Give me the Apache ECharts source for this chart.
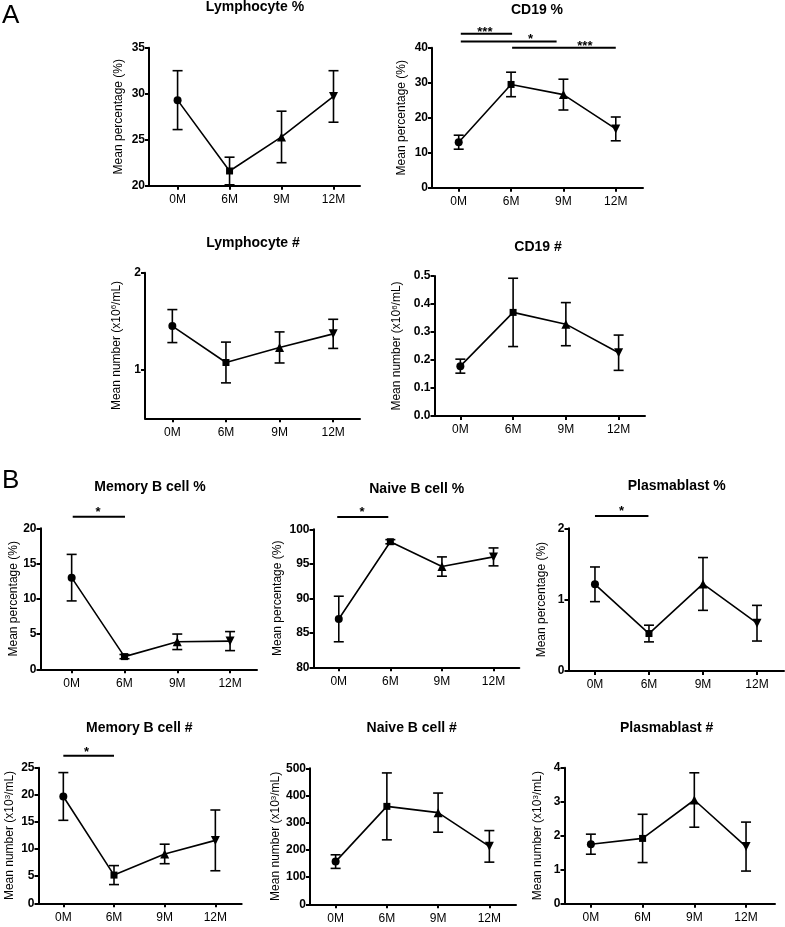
<!DOCTYPE html>
<html>
<head>
<meta charset="utf-8">
<script src="https://cdn.jsdelivr.net/npm/echarts@6/dist/echarts.min.js"></script>
<style>
html,body{margin:0;padding:0;background:#fff;}
#chart{width:785px;height:927px;}
</style>
</head>
<body>
<div id="chart"></div>
<script>
// ---------- data ----------
const categories = ['0M', '6M', '9M', '12M'];

const lymphPctMean = [29.3, 21.6, 25.3, 29.7];
const lymphPctSem  = [3.2, 1.5, 2.8, 2.8];
const cd19PctMean  = [13.0, 29.5, 26.6, 16.8];
const cd19PctSem   = [2.0, 3.5, 4.4, 3.4];
const lymphNumMean = [1.45, 1.075, 1.23, 1.37];
const lymphNumSem  = [0.17, 0.21, 0.16, 0.15];
const cd19NumMean  = [0.178, 0.37, 0.328, 0.226];
const cd19NumSem   = [0.025, 0.122, 0.077, 0.063];
const memPctMean   = [13.0, 1.8, 3.9, 4.0];
const memPctSem    = [3.3, 0.3, 1.1, 1.35];
const naivePctMean = [87.0, 98.2, 94.6, 96.0];
const naivePctSem  = [3.3, 0.3, 1.4, 1.3];
const plasmaPctMean = [1.215, 0.525, 1.22, 0.67];
const plasmaPctSem  = [0.243, 0.117, 0.37, 0.25];
const memNumMean   = [19.7, 5.2, 9.1, 11.6];
const memNumSem    = [4.4, 1.75, 1.8, 5.6];
const naiveNumMean = [157, 360, 337, 213];
const naiveNumSem  = [25, 123, 72, 58];
const plasmaNumMean = [1.75, 1.92, 3.05, 1.68];
const plasmaNumSem  = [0.295, 0.71, 0.8, 0.72];

// significance bars: [xStart, xEnd, yLevel, labelX]
const cd19PctSig = [[0.04, 1.02, 44.0, 0.5], [0.04, 1.87, 41.8, 1.37], [1.02, 3.0, 40.0, 2.41]];
const cd19PctSigLabels = ['***', '*', '***'];
const memPctSig = [[0.02, 1.01, 21.65, 0.5]];
const memPctSigLabels = ['*'];
const naivePctSig = [[-0.03, 0.96, 101.78, 0.45]];
const naivePctSigLabels = ['*'];
const plasmaPctSig = [[0.0, 0.99, 2.174, 0.49]];
const plasmaPctSigLabels = ['*'];
const memNumSig = [[0.0, 1.0, 27.2, 0.46]];
const memNumSigLabels = ['*'];

const lymphNumTicks = [1, 2];

const titles = ['Lymphocyte %', 'CD19 %', 'Lymphocyte #', 'CD19 #',
  'Memory B cell %', 'Naive B cell %', 'Plasmablast %',
  'Memory B cell #', 'Naive B cell #', 'Plasmablast #'];

// ---------- styling / layout ----------
const FONT = 'Liberation Sans, Arial, Helvetica, sans-serif';
const pctName = 'Mean percentage (%)';
const num6Name = '{a|Mean number (x10}{s|6}{a|/mL)}';
const num3Name = '{a|Mean number (x10}{s|3}{a|/mL)}';
const symbols = ['circle', 'rect', 'triangle', 'triangle'];
const symbolRot = [0, 0, 0, 180];
const symbolSizes = [8, 7, 9, 9];

const panels = [
  {mean: lymphPctMean, sem: lymphPctSem, tx: 255, ty: 7.5, L: 149, R: 360, T: 47.7, B: 185.7, xmin: -0.55, xmax: 3.51, ymin: 20, ymax: 35, interval: 5, name: pctName, gap: 24},
  {mean: cd19PctMean, sem: cd19PctSem, tx: 537, ty: 10, L: 432, R: 643, T: 47.7, B: 187.7, xmin: -0.51, xmax: 3.52, ymin: 0, ymax: 40, interval: 10, name: pctName, gap: 24, sig: cd19PctSig, sigLabels: cd19PctSigLabels, sigOff: 5},
  {mean: lymphNumMean, sem: lymphNumSem, tx: 253, ty: 243.3, L: 145, R: 360, T: 272.7, B: 418.3, xmin: -0.51, xmax: 3.5, ymin: 0.5, ymax: 2, custom: lymphNumTicks, name: num6Name, gap: 22},
  {mean: cd19NumMean, sem: cd19NumSem, tx: 538, ty: 247.3, L: 434.5, R: 645, T: 276, B: 416, xmin: -0.49, xmax: 3.5, ymin: 0, ymax: 0.5, interval: 0.1, fixed: 1, name: num6Name, gap: 31},
  {mean: memPctMean, sem: memPctSem, tx: 150, ty: 486.7, L: 40.5, R: 257, T: 528.3, B: 669.3, xmin: -0.59, xmax: 3.51, ymin: 0, ymax: 20, interval: 5, name: pctName, gap: 14, sig: memPctSig, sigLabels: memPctSigLabels, sigOff: 8},
  {mean: naivePctMean, sem: naivePctSem, tx: 416.7, ty: 489.3, L: 313.5, R: 519.3, T: 529.3, B: 667.3, xmin: -0.49, xmax: 3.5, ymin: 80, ymax: 100, interval: 5, name: pctName, gap: 30, sig: naivePctSig, sigLabels: naivePctSigLabels, sigOff: 8},
  {mean: plasmaPctMean, sem: plasmaPctSem, tx: 676.7, ty: 486, L: 568.5, R: 784, T: 528.3, B: 671, xmin: -0.49, xmax: 3.5, ymin: 0, ymax: 2, interval: 1, name: pctName, gap: 20.5, sig: plasmaPctSig, sigLabels: plasmaPctSigLabels, sigOff: 8},
  {mean: memNumMean, sem: memNumSem, tx: 139.3, ty: 728.3, L: 38.5, R: 241.7, T: 767.7, B: 903.3, xmin: -0.49, xmax: 3.52, ymin: 0, ymax: 25, interval: 5, name: num3Name, gap: 22, sig: memNumSig, sigLabels: memNumSigLabels, sigOff: 7},
  {mean: naiveNumMean, sem: naiveNumSem, tx: 411.7, ty: 728.3, L: 310, R: 516, T: 768.3, B: 904.3, xmin: -0.5, xmax: 3.52, ymin: 0, ymax: 500, interval: 100, name: num3Name, gap: 27},
  {mean: plasmaNumMean, sem: plasmaNumSem, tx: 666.7, ty: 728.3, L: 564.5, R: 775, T: 767.7, B: 903.7, xmin: -0.51, xmax: 3.56, ymin: 0, ymax: 4, interval: 1, name: num3Name, gap: 20}
];

function renderErr(params, api) {
  const x = api.value(0), lo = api.value(1), hi = api.value(2);
  const pt = api.coord([x, hi]), pb = api.coord([x, lo]);
  const h = 5, st = {stroke: '#000', lineWidth: 1.6};
  return {type: 'group', children: [
    {type: 'line', shape: {x1: pt[0], y1: pt[1], x2: pb[0], y2: pb[1]}, style: st},
    {type: 'line', shape: {x1: pt[0] - h, y1: pt[1], x2: pt[0] + h, y2: pt[1]}, style: st},
    {type: 'line', shape: {x1: pb[0] - h, y1: pb[1], x2: pb[0] + h, y2: pb[1]}, style: st}
  ]};
}

function makeSigRenderer(labels, off) {
  return function (params, api) {
    const x1 = api.value(0), x2 = api.value(1), y = api.value(2), lx = api.value(3);
    const a = api.coord([x1, y]), b = api.coord([x2, y]), c = api.coord([lx, y]);
    return {type: 'group', children: [
      {type: 'line', shape: {x1: a[0], y1: a[1], x2: b[0], y2: b[1]}, style: {stroke: '#000', lineWidth: 2}},
      {type: 'text', style: {text: labels[params.dataIndex], x: c[0], y: c[1] - off + 3.5,
        align: 'center', verticalAlign: 'middle', textAlign: 'center', textVerticalAlign: 'middle',
        font: 'bold 13px ' + FONT, fill: '#000'}}
    ]};
  };
}

const grid = [], xAxis = [], yAxis = [], series = [], title = [];

title.push({text: 'A', left: 2, top: 3, padding: 0, textStyle: {fontSize: 26, fontWeight: 'normal', color: '#000', fontFamily: FONT}});
title.push({text: 'B', left: 2, top: 468, padding: 0, textStyle: {fontSize: 26, fontWeight: 'normal', color: '#000', fontFamily: FONT}});

panels.forEach((p, i) => {
  grid.push({left: p.L, top: p.T, width: p.R - p.L, height: p.B - p.T, containLabel: false});
  title.push({text: titles[i], left: p.tx, top: p.ty - 7, padding: 0, textAlign: 'center',
    textStyle: {fontSize: 14, fontWeight: 'bold', color: '#000', fontFamily: FONT}});
  xAxis.push({
    type: 'value', gridIndex: i, min: p.xmin, max: p.xmax,
    axisLine: {show: true, onZero: false, lineStyle: {color: '#000', width: 2}},
    axisTick: {show: true, length: 4, customValues: [0, 1, 2, 3], lineStyle: {color: '#000', width: 2}},
    axisLabel: {show: true, customValues: [0, 1, 2, 3], margin: 8, color: '#000', fontSize: 12, fontFamily: FONT,
      formatter: v => categories[Math.round(v)]},
    splitLine: {show: false}
  });
  const yl = {
    type: 'value', gridIndex: i, min: p.ymin, max: p.ymax,
    name: p.name, nameLocation: 'middle', nameGap: p.gap,
    nameTextStyle: {fontSize: 12, color: '#000', fontFamily: FONT,
      rich: {a: {fontSize: 12, color: '#000', fontFamily: FONT}, s: {fontSize: 8, color: '#000', fontFamily: FONT, verticalAlign: 'top', padding: [0, 0, 5, 0]}}},
    axisLine: {show: true, onZero: false, lineStyle: {color: '#000', width: 2}},
    axisTick: {show: true, length: 4, lineStyle: {color: '#000', width: 2}},
    axisLabel: {show: true, margin: 4, color: '#000', fontSize: 12, fontWeight: 'bold', fontFamily: FONT},
    splitLine: {show: false}
  };
  if (p.custom) {
    yl.axisTick.customValues = p.custom;
    yl.axisLabel.customValues = p.custom;
  } else {
    yl.interval = p.interval;
  }
  if (p.fixed) yl.axisLabel.formatter = v => v.toFixed(p.fixed);
  yAxis.push(yl);

  series.push({
    type: 'custom', xAxisIndex: i, yAxisIndex: i, renderItem: renderErr, silent: true, z: 2,
    encode: {x: 0, y: [1, 2]},
    data: p.mean.map((v, j) => [j, v - p.sem[j], v + p.sem[j]])
  });
  series.push({
    type: 'line', xAxisIndex: i, yAxisIndex: i, silent: true, z: 3,
    lineStyle: {color: '#000', width: 1.6}, itemStyle: {color: '#000'},
    showAllSymbol: true,
    data: p.mean.map((v, j) => ({value: [j, v], symbol: symbols[j], symbolRotate: symbolRot[j], symbolSize: symbolSizes[j]}))
  });
  if (p.sig) {
    series.push({
      type: 'custom', xAxisIndex: i, yAxisIndex: i, silent: true, clip: false, z: 4,
      renderItem: makeSigRenderer(p.sigLabels, p.sigOff),
      encode: {x: [0, 1, 3], y: 2},
      data: p.sig
    });
  }
});

const chart = echarts.init(document.getElementById('chart'), null, {renderer: 'canvas'});
chart.setOption({
  animation: false,
  backgroundColor: '#fff',
  textStyle: {fontFamily: FONT},
  title, grid, xAxis, yAxis, series
});
</script>
</body>
</html>
